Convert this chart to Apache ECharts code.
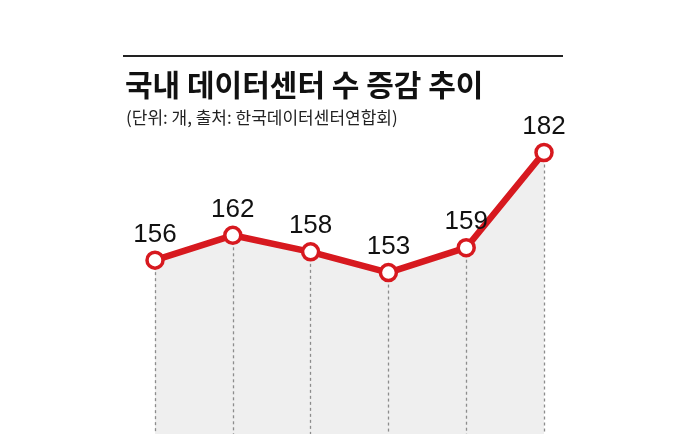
<!DOCTYPE html>
<html>
<head>
<meta charset="utf-8">
<script src="https://cdn.jsdelivr.net/npm/echarts@6/dist/echarts.min.js"></script>
<style>
html, body { margin: 0; padding: 0; background: #fff; }
#main { width: 686px; height: 440px; }
</style>
</head>
<body>
<div id="main"></div>
<script>
// 데이터
var years = ['1', '2', '3', '4', '5', '6'];
var counts = [156, 162, 158, 153, 159, 182];
var yMin = 114;
var yMax = 200;

var chart = echarts.init(document.getElementById('main'));

// 각 점에서 바닥까지 점선
var dropLines = counts.map(function (v, i) {
    return [{coord: [i, v]}, {coord: [i, yMin]}];
});

var option = {
    animation: false,
    title: [
        {
            text: '국내 데이터센터 수 증감 추이',
            left: 120,
            top: 65,
            textStyle: {
                fontFamily: 'Noto Sans CJK KR',
                fontWeight: 'bold',
                fontSize: 30,
                color: '#111'
            }
        },
        {
            text: '(단위: 개, 출처: 한국데이터센터연합회)',
            left: 121,
            top: 104,
            textStyle: {
                fontFamily: 'Noto Sans CJK KR',
                fontWeight: 'normal',
                fontSize: 17,
                color: '#222'
            }
        }
    ],
    graphic: [
        {
            type: 'line',
            shape: {x1: 123, y1: 56, x2: 563, y2: 56},
            style: {stroke: '#222', lineWidth: 2}
        }
    ],
    grid: {
        left: 155,
        right: 142,
        top: 78,
        height: 356
    },
    xAxis: {
        type: 'category',
        boundaryGap: false,
        data: years,
        show: false
    },
    yAxis: {
        type: 'value',
        min: yMin,
        max: yMax,
        show: false,
        splitLine: {show: false}
    },
    series: [
        {
            type: 'line',
            data: counts,
            z: 1,
            showSymbol: false,
            lineStyle: {width: 0},
            areaStyle: {color: '#efefef', opacity: 1},
            markLine: {
                z: 2,
                silent: true,
                symbol: 'none',
                label: {show: false},
                lineStyle: {color: '#8c8c8c', type: [3, 3], width: 1.3},
                data: dropLines
            }
        },
        {
            type: 'line',
            data: counts,
            z: 3,
            symbol: 'circle',
            symbolSize: 16,
            lineStyle: {color: '#d7191f', width: 6.5},
            itemStyle: {color: '#fff', borderColor: '#d7191f', borderWidth: 3.5},
            label: {
                show: true,
                position: 'top',
                distance: 3,
                fontFamily: 'Liberation Sans',
                fontSize: 26,
                color: '#111'
            }
        }
    ]
};

chart.setOption(option);
</script>
</body>
</html>
